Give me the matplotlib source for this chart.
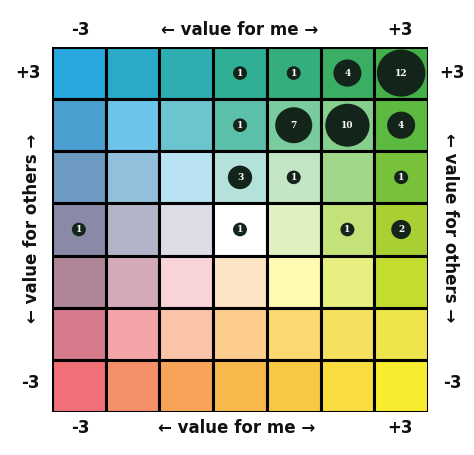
import matplotlib
matplotlib.use("Agg")
import matplotlib.pyplot as plt
import numpy as np
from matplotlib.patches import Rectangle, Circle

levels = [-3, -2, -1, 0, 1, 2, 3]
# colors rows from y=+3 (top) to y=-3 (bottom), columns x=-3..+3
colors = [
    ["#29a8e0", "#2aaac8", "#2eaeb0", "#2fae96", "#35ae7e", "#3aae62", "#44b048"],
    ["#4a9fd0", "#6cc4ea", "#6cc4cf", "#5cbfa9", "#7acb9e", "#86cf8c", "#5cba40"],
    ["#6c9ac0", "#92c0da", "#b8e2f2", "#b4e2da", "#c4e6c6", "#a0d88a", "#78c23a"],
    ["#8a8aa8", "#b4b4c8", "#dcdce6", "#ffffff", "#e0f0c0", "#c4e27a", "#a8d032"],
    ["#ae8698", "#d4aab8", "#f8d4d8", "#fde4c4", "#fefab0", "#e8ee80", "#c4dc30"],
    ["#d47a8a", "#f4a4a8", "#fbc4a8", "#fccc8c", "#fcd870", "#f6e060", "#eee44c"],
    ["#f07078", "#f4906a", "#f8a458", "#f8b84c", "#f8c844", "#f8dc40", "#f8ec30"],
]
# counts: (x, y, n)
pt_x = [0, 1, 2, 3, 0, 1, 2, 3, 0, 1, 3, -3, 0, 2, 3]
pt_y = [3, 3, 3, 3, 2, 2, 2, 2, 1, 1, 1, 0, 0, 0, 0]
pt_n = [1, 1, 4, 12, 1, 7, 10, 4, 3, 1, 1, 1, 1, 1, 2]

fig = plt.figure(figsize=(4.74, 4.55), dpi=100)
ax = fig.add_axes([52/474, 1-412/455, 376/474, 365/455])
ax.set_xlim(-3.5, 3.5)
ax.set_ylim(-3.5, 3.5)
ax.axis("off")
for i, yv in enumerate(levels[::-1]):
    for j, xv in enumerate(levels):
        ax.add_patch(Rectangle((xv-0.5, yv-0.5), 1, 1, facecolor=colors[i][j],
                               edgecolor="black", lw=2.2))
cell_px = 376/7
for x, y, n in zip(pt_x, pt_y, pt_n):
    r = 7*np.sqrt(n)/cell_px
    ax.add_patch(Circle((x, y), r, facecolor="#13251b", edgecolor="none", zorder=3))
    ax.text(x, y, str(n), color="white", ha="center", va="center", fontsize=6.5,
            fontweight="bold", family="DejaVu Serif", zorder=4)

kw = dict(fontsize=12, fontweight="bold", ha="center", va="center", color="#111")
fig.text(80/474, 1-30/455, "-3", **kw)
fig.text(400/474, 1-30/455, "+3", **kw)
fig.text(80/474, 1-428/455, "-3", **kw)
fig.text(400/474, 1-428/455, "+3", **kw)
fig.text(240/474, 1-30/455, "← value for me →", **kw)
fig.text(237/474, 1-428/455, "← value for me →", **kw)
fig.text(28/474, 1-73/455, "+3", **kw)
fig.text(30/474, 1-383/455, "-3", **kw)
fig.text(452/474, 1-73/455, "+3", **kw)
fig.text(452/474, 1-383/455, "-3", **kw)
fig.text(32/474, 1-228/455, "← value for others →", rotation=90, **kw)
fig.text(450/474, 1-228/455, "← value for others →", rotation=270, **kw)
fig.savefig("out.png", dpi=100)
